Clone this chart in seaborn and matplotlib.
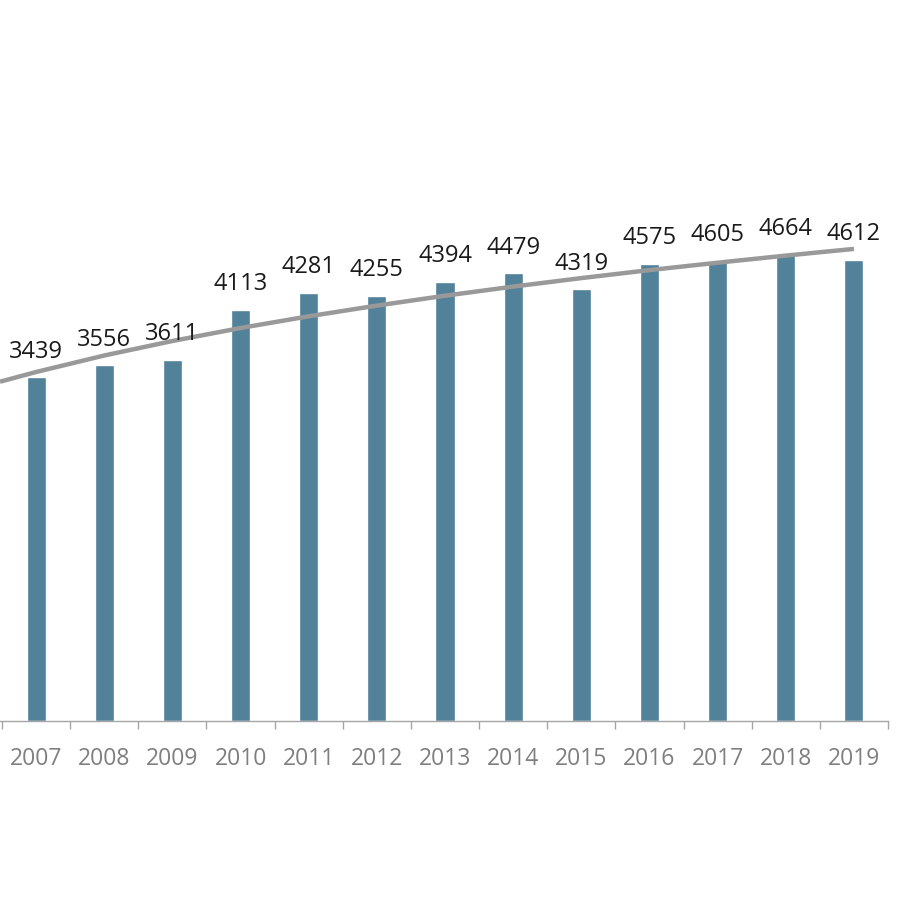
import numpy as np
import pandas as pd
import matplotlib
matplotlib.use("Agg")
import matplotlib.pyplot as plt
import seaborn as sns

# --- dados ---
anos = ['2007', '2008', '2009', '2010', '2011', '2012', '2013',
        '2014', '2015', '2016', '2017', '2018', '2019']
valores = [3439, 3556, 3611, 4113, 4281, 4255, 4394,
           4479, 4319, 4575, 4605, 4664, 4612]

# linha de tendência (começa na borda esquerda, depois um valor por ano)
tendencia_inicio = 3393
tendencia = [3490, 3655, 3800, 3930, 4047, 4154, 4253,
             4344, 4429, 4509, 4583, 4654, 4721]

df = pd.DataFrame({'Ano': anos, 'Valor': valores})

sns.set_theme(style="white")
plt.rcParams['font.family'] = ['Open Sans', 'DejaVu Sans']

fig = plt.figure(figsize=(9, 9), dpi=100)
ax = fig.add_axes([0, 179 / 900, 888 / 900, 600 / 900])

sns.barplot(data=df, x='Ano', y='Valor', color='#52819a', width=0.28,
            saturation=1, ax=ax)

x_min = -0.53
pos = np.arange(len(valores))
ax.plot(np.r_[x_min, pos], [tendencia_inicio] + tendencia, color='#999999',
        lw=3.2, solid_capstyle='butt', zorder=3)

# rótulos de dados
for i, v in enumerate(valores):
    ax.annotate(str(v), (i, v), xytext=(0, 14), textcoords='offset points',
                ha='center', va='baseline', fontsize=17, color='#1a1a1a')

ax.set_xlim(x_min, len(valores) - 0.5)
ax.set_ylim(0, 6000)
ax.set_xlabel('')
ax.set_ylabel('')
ax.set_yticks([])
for lado in ['top', 'right', 'left']:
    ax.spines[lado].set_visible(False)
ax.spines['bottom'].set_color('#a6a6a6')
ax.spines['bottom'].set_linewidth(1)

ax.set_xticks(pos)
ax.set_xticklabels(anos, fontsize=16.5, color='#7f7f7f')
ax.tick_params(axis='x', which='major', length=0, pad=19)
ax.set_xticks(np.arange(-0.5, len(valores), 1), minor=True)
ax.tick_params(axis='x', which='minor', length=6, width=1,
               color='#a6a6a6', direction='out', bottom=True)

fig.savefig('out.png', dpi=100)
